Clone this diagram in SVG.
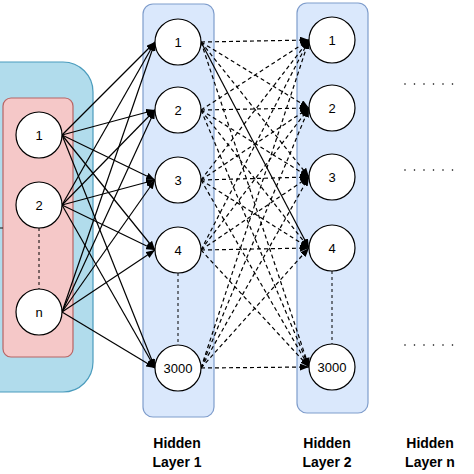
<svg xmlns="http://www.w3.org/2000/svg" width="474" height="474" viewBox="0 0 474 474">
<style>
.node circle{fill:#fff;stroke:#000;stroke-width:1.2}
.node text{font-family:"Liberation Sans",Arial,sans-serif;font-size:13px;fill:#000;text-anchor:middle;dominant-baseline:central}
.solid{stroke:#000;stroke-width:1.2;fill:none;marker-end:url(#arr)}
.dash{stroke:#000;stroke-width:1.2;fill:none;stroke-dasharray:4 3;marker-end:url(#arr)}
.vdash{stroke:#000;stroke-width:1;stroke-dasharray:3 3;fill:none}
.dots{stroke:#000;stroke-width:1.6;stroke-linecap:round;stroke-dasharray:0 9.5}
.lbl{font-family:"Liberation Sans",Arial,sans-serif;font-size:14px;font-weight:bold;fill:#000;text-anchor:middle}
</style>
<defs>
<marker id="arr" markerUnits="userSpaceOnUse" markerWidth="9" markerHeight="7" refX="9" refY="3.5" orient="auto">
<path d="M0,0 L9,3.5 L0,7 z" fill="#000"/>
</marker>
</defs>
<rect width="474" height="474" fill="#fff"/>
<g id="input-layer">
<rect x="-40" y="62" width="133" height="330" rx="30" fill="#b1dcec" stroke="#4b9cbd" stroke-width="1.2"/>
<rect x="3" y="98" width="70" height="259" rx="8" fill="#f5c8c8" stroke="#b86464" stroke-width="1.2"/>
<line x1="0" y1="228" x2="3" y2="228" stroke="#333" stroke-width="1.2"/>
<line class="vdash" x1="39" y1="228" x2="39" y2="289"/>
</g>
<g id="hidden-layer-1">
<rect x="143" y="4" width="71" height="413" rx="10" fill="#dae8fc" stroke="#7f9dcc" stroke-width="1.2"/>
<line class="vdash" x1="178" y1="273" x2="178" y2="345"/>
</g>
<g id="hidden-layer-2">
<rect x="297" y="3" width="71" height="410" rx="10" fill="#dae8fc" stroke="#7f9dcc" stroke-width="1.2"/>
<line class="vdash" x1="332" y1="271" x2="332" y2="344"/>
</g>
<g id="connectors">
<line class="solid" x1="62" y1="135" x2="155" y2="42"/>
<line class="solid" x1="62" y1="135" x2="155" y2="110"/>
<line class="solid" x1="62" y1="135" x2="155" y2="180"/>
<line class="solid" x1="62" y1="135" x2="155" y2="250"/>
<line class="solid" x1="62" y1="135" x2="155" y2="368"/>
<line class="solid" x1="62" y1="205" x2="155" y2="42"/>
<line class="solid" x1="62" y1="205" x2="155" y2="110"/>
<line class="solid" x1="62" y1="205" x2="155" y2="180"/>
<line class="solid" x1="62" y1="205" x2="155" y2="250"/>
<line class="solid" x1="62" y1="205" x2="155" y2="368"/>
<line class="solid" x1="62" y1="312" x2="155" y2="42"/>
<line class="solid" x1="62" y1="312" x2="155" y2="110"/>
<line class="solid" x1="62" y1="312" x2="155" y2="180"/>
<line class="solid" x1="62" y1="312" x2="155" y2="250"/>
<line class="solid" x1="62" y1="312" x2="155" y2="368"/>

<line class="dash" x1="201" y1="42" x2="309" y2="40"/>
<line class="dash" x1="201" y1="42" x2="309" y2="108"/>
<line class="dash" x1="201" y1="42" x2="309" y2="177"/>
<line class="solid" x1="201" y1="42" x2="309" y2="248"/>
<line class="dash" x1="201" y1="42" x2="309" y2="367"/>
<line class="dash" x1="201" y1="110" x2="309" y2="40"/>
<line class="dash" x1="201" y1="110" x2="309" y2="108"/>
<line class="dash" x1="201" y1="110" x2="309" y2="177"/>
<line class="dash" x1="201" y1="110" x2="309" y2="248"/>
<line class="dash" x1="201" y1="110" x2="309" y2="367"/>
<line class="dash" x1="201" y1="180" x2="309" y2="40"/>
<line class="dash" x1="201" y1="180" x2="309" y2="108"/>
<line class="dash" x1="201" y1="180" x2="309" y2="177"/>
<line class="dash" x1="201" y1="180" x2="309" y2="248"/>
<line class="dash" x1="201" y1="180" x2="309" y2="367"/>
<line class="dash" x1="201" y1="250" x2="309" y2="40"/>
<line class="dash" x1="201" y1="250" x2="309" y2="108"/>
<line class="dash" x1="201" y1="250" x2="309" y2="177"/>
<line class="dash" x1="201" y1="250" x2="309" y2="248"/>
<line class="dash" x1="201" y1="250" x2="309" y2="367"/>
<line class="dash" x1="201" y1="368" x2="309" y2="40"/>
<line class="dash" x1="201" y1="368" x2="309" y2="108"/>
<line class="dash" x1="201" y1="368" x2="309" y2="177"/>
<line class="dash" x1="201" y1="368" x2="309" y2="248"/>
<line class="dash" x1="201" y1="368" x2="309" y2="367"/>
</g>
<g id="in-1" class="node"><circle cx="39" cy="135" r="23"/><text x="39" y="135">1</text></g>
<g id="in-2" class="node"><circle cx="39" cy="205" r="23"/><text x="39" y="205">2</text></g>
<g id="in-n" class="node"><circle cx="39" cy="312" r="23"/><text x="39" y="312">n</text></g>
<g id="h1-1" class="node"><circle cx="178" cy="42" r="23"/><text x="178" y="42">1</text></g>
<g id="h1-2" class="node"><circle cx="178" cy="110" r="23"/><text x="178" y="110">2</text></g>
<g id="h1-3" class="node"><circle cx="178" cy="180" r="23"/><text x="178" y="180">3</text></g>
<g id="h1-4" class="node"><circle cx="178" cy="250" r="23"/><text x="178" y="250">4</text></g>
<g id="h1-3000" class="node"><circle cx="178" cy="368" r="23"/><text x="178" y="368">3000</text></g>
<g id="h2-1" class="node"><circle cx="332" cy="40" r="23"/><text x="332" y="40">1</text></g>
<g id="h2-2" class="node"><circle cx="332" cy="108" r="23"/><text x="332" y="108">2</text></g>
<g id="h2-3" class="node"><circle cx="332" cy="177" r="23"/><text x="332" y="177">3</text></g>
<g id="h2-4" class="node"><circle cx="332" cy="248" r="23"/><text x="332" y="248">4</text></g>
<g id="h2-3000" class="node"><circle cx="332" cy="367" r="23"/><text x="332" y="367">3000</text></g>
<g id="hidden-layer-n">
<line class="dots" x1="405" y1="84" x2="462" y2="84"/>
<line class="dots" x1="405" y1="170" x2="462" y2="170"/>
<line class="dots" x1="405" y1="345" x2="462" y2="345"/>
</g>
<g id="labels">
<text class="lbl" x="177" y="448">Hidden</text>
<text class="lbl" x="177" y="467">Layer 1</text>
<text class="lbl" x="327" y="448">Hidden</text>
<text class="lbl" x="327" y="467">Layer 2</text>
<text class="lbl" x="430" y="448">Hidden</text>
<text class="lbl" x="430" y="467">Layer n</text>
</g>
</svg>
